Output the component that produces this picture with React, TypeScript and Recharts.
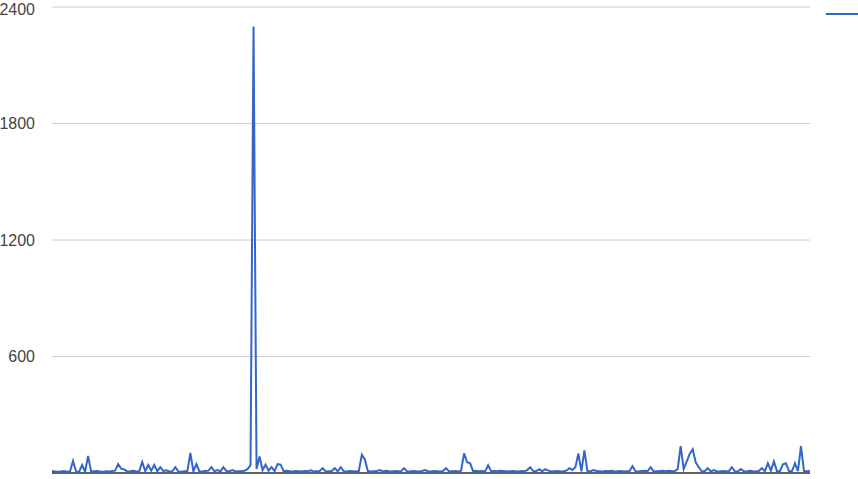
import React from "react";
import { LineChart, Line, XAxis, YAxis, CartesianGrid, ReferenceLine } from "recharts";

const Y_TICKS = [0, 600, 1200, 1800, 2400];
const SERIES_NAME = "Count";

// one value per sample
const VALUES = [
  10, 8, 6, 8, 10, 7, 9, 62, 8, 6,
  41, 7, 88, 8, 9, 10, 8, 7, 9, 8,
  10, 12, 46, 22, 18, 8, 9, 12, 8, 9,
  57, 10, 41, 12, 41, 9, 30, 10, 14, 8,
  9, 30, 8, 7, 9, 10, 103, 8, 46, 9,
  8, 10, 12, 30, 9, 15, 8, 30, 10, 9,
  15, 8, 9, 10, 12, 20, 40, 2300, 20, 85,
  15, 43, 12, 30, 10, 46, 43, 10, 12, 9,
  8, 10, 9, 8, 10, 9, 14, 8, 9, 10,
  25, 8, 9, 10, 25, 8, 30, 9, 8, 10,
  9, 8, 10, 94, 70, 10, 8, 9, 10, 15,
  8, 12, 9, 8, 10, 9, 8, 25, 9, 8,
  10, 9, 8, 10, 15, 9, 8, 10, 9, 8,
  10, 25, 8, 9, 10, 8, 12, 101, 55, 50,
  10, 12, 9, 10, 8, 40, 9, 10, 9, 12,
  10, 9, 8, 10, 9, 8, 10, 9, 15, 30,
  9, 10, 20, 9, 20, 12, 8, 9, 10, 8,
  9, 12, 25, 15, 30, 100, 8, 117, 10, 9,
  15, 10, 9, 8, 10, 9, 12, 8, 9, 10,
  8, 9, 10, 35, 9, 8, 10, 12, 9, 30,
  8, 9, 10, 12, 9, 12, 10, 9, 20, 139,
  20, 59, 98, 122, 55, 30, 10, 9, 25, 8,
  15, 9, 8, 10, 9, 8, 30, 9, 8, 20,
  9, 8, 12, 9, 8, 10, 25, 9, 50, 12,
  60, 10, 9, 45, 50, 10, 9, 50, 10, 139,
  10, 9, 10,
];

const data = VALUES.map((v, i) => ({ i, value: v }));

const BLUE = "#3366cc";

function YTick(props: any) {
  const { y, payload } = props;
  return (
    <text
      x={35}
      y={y}
      dy="0.355em"
      textAnchor="end"
      fill="#444"
      fontSize={16}
      fontFamily="Arial, 'Liberation Sans', sans-serif"
    >
      {payload.value}
    </text>
  );
}

export default function App() {
  return (
    <div style={{ position: "relative", width: 858, height: 479, overflow: "hidden", background: "#fff" }}>
      <style>{`body{margin:0}`}</style>
      <LineChart
        width={858}
        height={479}
        data={data}
        margin={{ top: 7, right: 48, bottom: 6, left: 0 }}
      >
        <CartesianGrid vertical={false} stroke="#cccccc" />
        <XAxis dataKey="i" type="number" domain={[0, VALUES.length - 1]} hide />
        <YAxis
          width={52}
          domain={[0, 2400]}
          ticks={Y_TICKS}
          axisLine={false}
          tickLine={false}
          tick={<YTick />}
        />
        <ReferenceLine y={0} stroke="#333333" strokeWidth={1.5} />
        <Line
          type="linear"
          dataKey="value"
          name={SERIES_NAME}
          stroke={BLUE}
          strokeWidth={2}
          dot={false}
          isAnimationActive={false}
        />
      </LineChart>
      {/* legend, mostly off the right edge */}
      <div
        style={{
          position: "absolute",
          left: 826,
          top: 5,
          display: "flex",
          alignItems: "center",
          whiteSpace: "nowrap",
          fontFamily: "Arial, 'Liberation Sans', sans-serif",
          fontSize: 16,
          color: "#222",
        }}
      >
        <span style={{ display: "inline-block", width: 32, height: 2, background: BLUE, marginRight: 6 }} />
        <span>{SERIES_NAME}</span>
      </div>
    </div>
  );
}
